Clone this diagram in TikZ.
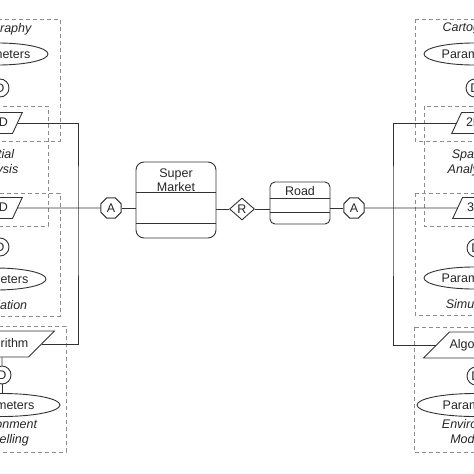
\documentclass[tikz,border=0pt]{standalone}
\usepackage{fontspec}
\setmainfont{Liberation Sans}
\usepackage{tikz}
\usetikzlibrary{shapes.geometric}
\usepackage{xcolor}
\definecolor{linegray}{RGB}{50, 50, 50}
\definecolor{boxgray}{RGB}{140, 140, 140}

\tikzset{
  panel/.style={boxgray, line width=0.7pt, dash pattern=on 4pt off 3pt},
  link/.style={linegray, line width=0.9pt},
  param/.style={ellipse, draw=linegray, line width=0.9pt, minimum width=100pt, minimum height=22pt, inner sep=0pt},
  ddot/.style={circle, draw=linegray, line width=0.9pt, minimum size=18pt, inner sep=0pt},
  datatype/.style={trapezium, trapezium left angle=65, trapezium right angle=115, draw=linegray, line width=0.9pt,
    text height=9pt, text depth=3pt, inner xsep=4.5pt, inner ysep=4.5pt},
  algbox/.style={datatype, trapezium left angle=45, trapezium right angle=135, inner xsep=0pt, inner ysep=7pt},
  octo/.style={regular polygon, regular polygon sides=8, draw=linegray, line width=0.9pt, minimum size=22pt, inner sep=0pt},
  reldiamond/.style={diamond, draw=linegray, line width=0.9pt, minimum width=25pt, minimum height=22pt, inner sep=0pt},
  entity/.style={draw=linegray, line width=0.9pt, rounded corners=8pt},
  title/.style={font=\fontsize{12.5}{14.5}\selectfont\itshape, align=center}
}

\begin{document}
\begin{tikzpicture}[x=1pt, y=-1pt, font=\fontsize{12.5}{13.5}\selectfont, text=black!85]
    \useasboundingbox (0,0) rectangle (474,474);
    \clip (0,0) rectangle (474,474);

    \draw[panel] (-65,19) rectangle (60,141);
    \draw[panel] (-56,106) rectangle (48,226);
    \draw[panel] (-65,193) rectangle (60,316);
    \draw[panel] (-60,326) rectangle (66,452);
    \draw[panel] (415,19) rectangle (540,141);
    \draw[panel] (424,106) rectangle (528,226);
    \draw[panel] (415,193) rectangle (540,315);
    \draw[panel] (414,327) rectangle (540,452);

    \node[title] (cartL) at (-3,29) {Cartography};
    \node[param] (parCartL) at (-2,54) {Parameters};
    \node[ddot] (dCartL) at (0,88) {D};
    \node[datatype] (p2dL) at (0,123) {2D};
    \node[title] (spatL) at (-5,163) {Spatial\\Analysis};
    \node[datatype] (p3dL) at (0,208) {3D};
    \node[ddot] (dSimL) at (0,247) {D};
    \node[param] (parSimL) at (-4,279) {Parameters};
    \node[title] (simL) at (-2,305) {Simulation};
    \node[algbox] (algL) at (2,344) {Algorithm};
    \node[ddot] (dEnvL) at (2,375) {D};
    \node[param, minimum width=116pt, minimum height=23pt] (parEnvL) at (2,405) {Parameters};
    \node[title] (envL) at (2,433) {Environment\\Modelling};

    \node[title] (cartR) at (477,28) {Cartography};
    \node[param] (parCartR) at (474,54) {Parameters};
    \node[ddot] (dCartR) at (475,88) {D};
    \node[datatype] (p2dR) at (474,123) {2D};
    \node[title] (spatR) at (471,163) {Spatial\\Analysis};
    \node[datatype] (p3dR) at (475,208) {3D};
    \node[ddot] (dSimR) at (476,248) {D};
    \node[param] (parSimR) at (474,278) {Parameters};
    \node[title] (simR) at (475,304) {Simulation};
    \node[algbox] (algR) at (476,345) {Algorithm};
    \node[ddot] (dEnvR) at (476,376) {D};
    \node[param, minimum width=116pt, minimum height=23pt] (parEnvR) at (475,405) {Parameters};
    \node[title] (envR) at (477,433) {Environment\\Modelling};

    \node[octo] (aL) at (111,208) {A};
    \node[entity, minimum width=80pt, minimum height=76pt] (market) at (176,200) {};
    \node[align=center] (marketname) at (176,180) {Super\\Market};
    \node[reldiamond] (rel) at (242,209) {R};
    \node[entity, rounded corners=5pt, minimum width=60pt, minimum height=42pt] (road) at (300,203) {};
    \node (roadname) at (300,191) {Road};
    \node[octo] (aR) at (354,208) {A};

    \draw[link] ([yshift=-31pt]market.north west) -- ([yshift=-31pt]market.north east);
    \draw[link] ([yshift=15pt]market.south west) -- ([yshift=15pt]market.south east);
    \draw[link] ([yshift=-17pt]road.north west) -- ([yshift=-17pt]road.north east);
    \draw[link] ([yshift=12pt]road.south west) -- ([yshift=12pt]road.south east);

    \coordinate (jL) at (78,208);
    \coordinate (jR) at (393,208);
    \draw[link] (p2dL.east) -| (jL) |- (algL.east);
    \draw[link] (p3dL.east) -- (aL.west);
    \draw[link] (aL.east) -- (aL.east -| market.west);
    \draw[link] (market.east |- rel.west) -- (rel.west);
    \draw[link] (rel.east) -- (rel.east -| road.west);
    \draw[link] (road.east |- aR.west) -- (aR.west);
    \draw[link] (aR.east) -- (p3dR.west);
    \draw[link] (p2dR.west) -| (jR) |- (algR.west);
    \draw[link] (algL) -- (dEnvL);
    \draw[link] (dEnvL) -- (parEnvL);
    \draw[link] (algR) -- (dEnvR);
    \draw[link] (dEnvR) -- (parEnvR);
  \end{tikzpicture}
\end{document}
